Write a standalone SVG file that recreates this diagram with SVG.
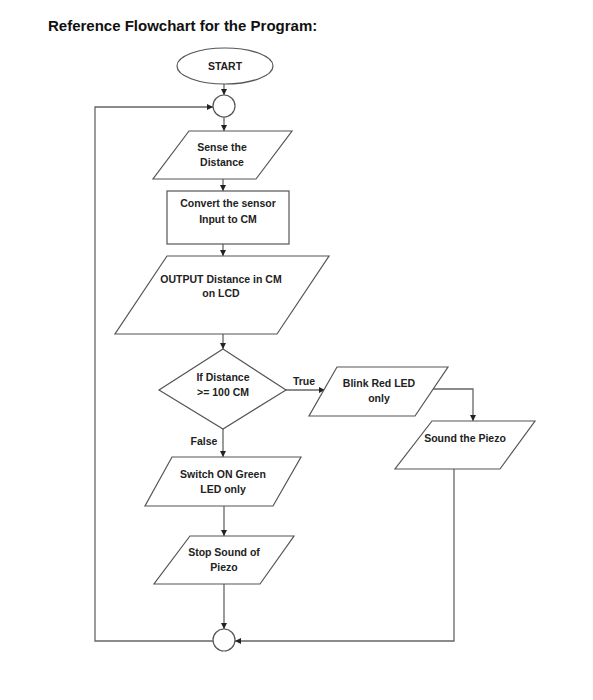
<svg xmlns="http://www.w3.org/2000/svg" width="593" height="700" viewBox="0 0 593 700">
<style>
.shape{fill:#fff;stroke:#555;stroke-width:1.2}
.conn{fill:none;stroke:#666;stroke-width:1.3}
text{font-family:"Liberation Sans",Arial,sans-serif;font-weight:bold;fill:#222;text-anchor:middle}
.lbl{font-size:10.5px}
.title{font-size:15px;text-anchor:start;fill:#111}
</style>
<defs>
<marker id="ah" viewBox="0 0 10 10" refX="10" refY="5" markerWidth="6" markerHeight="6" markerUnits="userSpaceOnUse" orient="auto">
<path d="M0,0 L10,5 L0,10 z" fill="#222"/>
</marker>
</defs>
<rect width="593" height="700" fill="#fff"/>
<text class="title" x="48" y="31">Reference Flowchart for the Program:</text>
<g id="connectors">
<line class="conn" x1="224" y1="84" x2="224" y2="95" marker-end="url(#ah)"/>
<line class="conn" x1="224" y1="117" x2="224" y2="131" marker-end="url(#ah)"/>
<line class="conn" x1="223" y1="179" x2="223" y2="191" marker-end="url(#ah)"/>
<line class="conn" x1="223" y1="244" x2="223" y2="256" marker-end="url(#ah)"/>
<line class="conn" x1="223" y1="334" x2="223" y2="349" marker-end="url(#ah)"/>
<line class="conn" x1="286" y1="390" x2="325" y2="390" marker-end="url(#ah)"/>
<polyline class="conn" points="433,389 473,389 473,421" marker-end="url(#ah)"/>
<line class="conn" x1="223" y1="429" x2="223" y2="457" marker-end="url(#ah)"/>
<line class="conn" x1="224" y1="506" x2="224" y2="536" marker-end="url(#ah)"/>
<line class="conn" x1="224" y1="584" x2="224" y2="629" marker-end="url(#ah)"/>
<polyline class="conn" points="454,469 454,641 235,641" marker-end="url(#ah)"/>
<polyline class="conn" points="213,641 95,641 95,107 213,107" marker-end="url(#ah)"/>
<text class="lbl" x="304" y="385">True</text>
<text class="lbl" x="204" y="445">False</text>
</g>
<g id="start">
<ellipse class="shape" cx="225" cy="66" rx="48" ry="18"/>
<text class="lbl" x="225" y="70">START</text>
</g>
<g id="join-top">
<circle class="shape" cx="224" cy="106" r="11"/>
</g>
<g id="sense">
<polygon class="shape" points="189,131 292,131 256,179 153,179"/>
<text class="lbl" x="222" y="151">Sense the</text>
<text class="lbl" x="222" y="166">Distance</text>
</g>
<g id="convert">
<rect class="shape" x="167" y="191" width="122" height="53"/>
<text class="lbl" x="228" y="207">Convert the sensor</text>
<text class="lbl" x="228" y="223">Input to CM</text>
</g>
<g id="output">
<polygon class="shape" points="167,256 329,256 277,334 115,334"/>
<text class="lbl" x="221" y="283">OUTPUT Distance in CM</text>
<text class="lbl" x="221" y="297">on LCD</text>
</g>
<g id="decision">
<polygon class="shape" points="223,349 286,390 223,429 159,390"/>
<text class="lbl" x="223" y="381">If Distance</text>
<text class="lbl" x="223" y="396">&gt;= 100 CM</text>
</g>
<g id="blink">
<polygon class="shape" points="337,367 448,367 415,416 309,416"/>
<text class="lbl" x="379" y="387">Blink Red LED</text>
<text class="lbl" x="379" y="402">only</text>
</g>
<g id="piezo">
<polygon class="shape" points="432,421 535,421 500,469 395,469"/>
<text class="lbl" x="465" y="442">Sound the Piezo</text>
</g>
<g id="green">
<polygon class="shape" points="172,457 301,457 273,506 145,506"/>
<text class="lbl" x="223" y="478">Switch ON Green</text>
<text class="lbl" x="223" y="493">LED only</text>
</g>
<g id="stop">
<polygon class="shape" points="190,536 294,536 260,584 154,584"/>
<text class="lbl" x="224" y="556">Stop Sound of</text>
<text class="lbl" x="224" y="571">Piezo</text>
</g>
<g id="join-bottom">
<circle class="shape" cx="224" cy="640" r="11"/>
</g>
</svg>
